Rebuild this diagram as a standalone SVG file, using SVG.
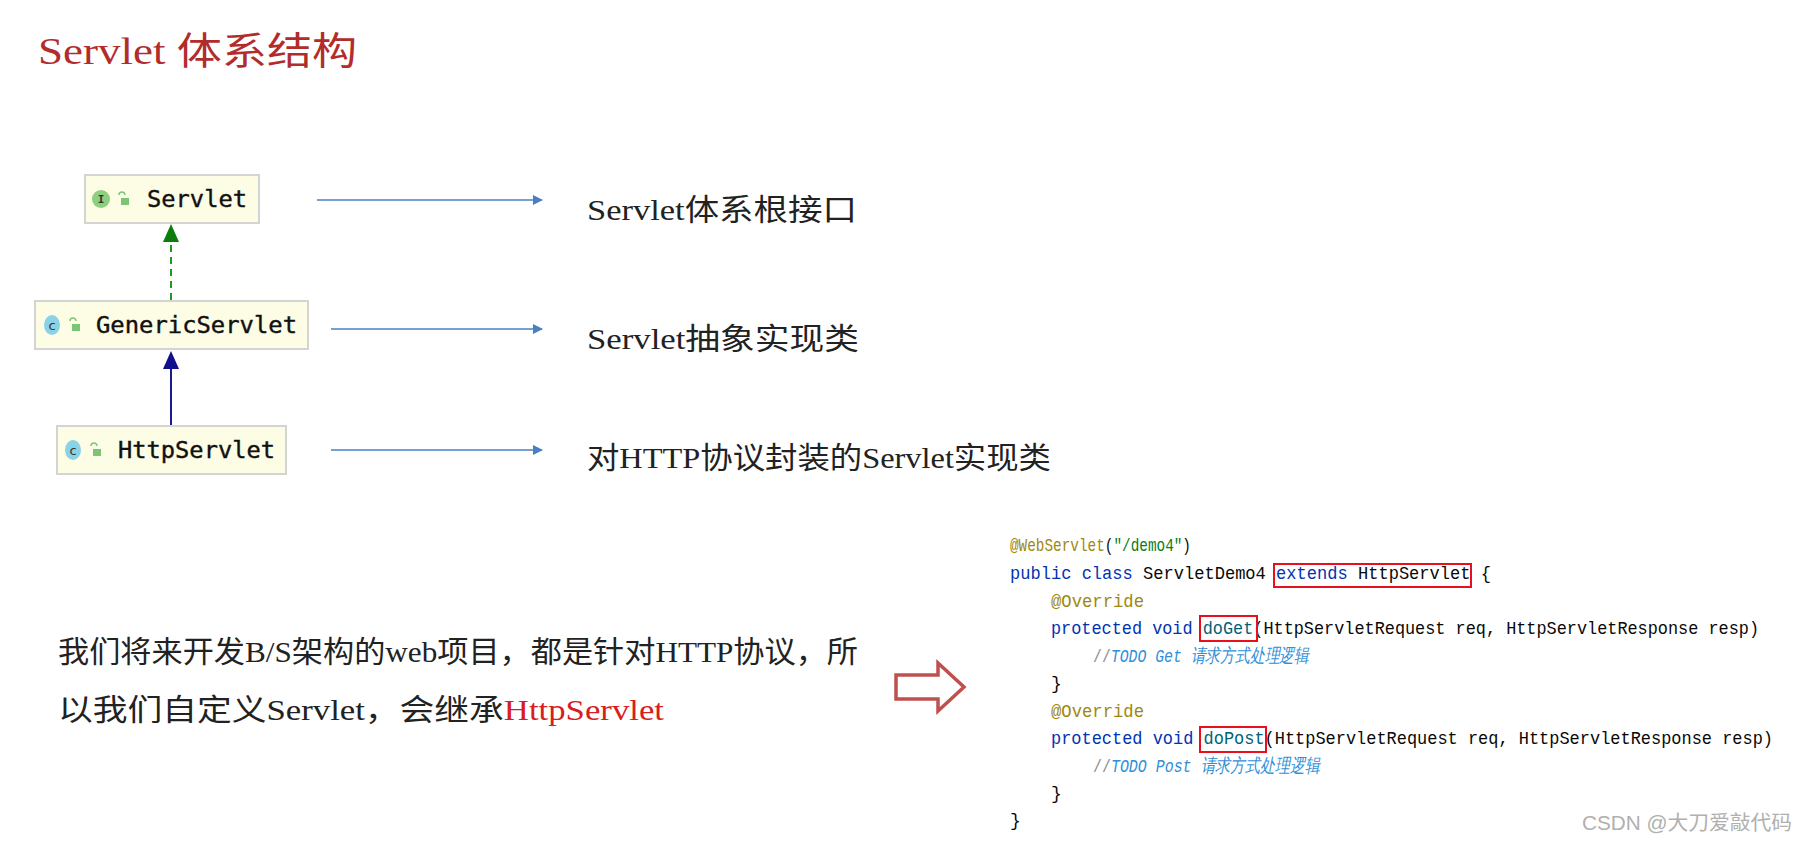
<svg xmlns="http://www.w3.org/2000/svg" width="1815" height="843" viewBox="0 0 1815 843">
<style>
.node rect.b{fill:#fdfde6;stroke:#d4d4d4;stroke-width:2}
.nt{font-family:"DejaVu Sans Mono",monospace;font-size:23px;fill:#111;stroke:#111;stroke-width:0.4}
.lbl{font-family:"Liberation Serif","Noto Sans CJK SC",serif;font-size:30px;fill:#222}
.code{font-family:"Liberation Mono",monospace;font-size:18px;fill:#080808}
.kw{fill:#0033b3}.an{fill:#9e880d}.st{fill:#067d17}.fn{fill:#00627a}.cm{fill:#2f8fd8;font-style:italic}.gr{fill:#8c8c8c}
.rb{fill:none;stroke:#e8101e;stroke-width:2}
</style>
<defs>
<marker id="ab" markerWidth="10" markerHeight="10" refX="9" refY="5" orient="auto" markerUnits="userSpaceOnUse"><path d="M0,0 L10,5 L0,10 z" fill="#4a7fc1"/></marker>
<g id="lock"><path d="M-4,-6 a3,3 0 0 1 6,0" fill="none" stroke="#7cc576" stroke-width="1.5"/><rect x="-2" y="-3" width="8" height="7" fill="#7cc576"/></g>
</defs>
<text x="38" y="64" font-family="Liberation Serif,Noto Sans CJK SC,serif" font-size="38" fill="#b22c2c" textLength="319" lengthAdjust="spacingAndGlyphs">Servlet 体系结构</text>

<g id="connectors">
<line x1="171" y1="300" x2="171" y2="240" stroke="#1e9a1e" stroke-width="2" stroke-dasharray="7,5"/>
<path d="M171,224 L163,242 L179,242 z" fill="#0a7d0a"/>
<line x1="171" y1="425" x2="171" y2="365" stroke="#1a1a8c" stroke-width="2"/>
<path d="M171,351 L163,369 L179,369 z" fill="#10108a"/>
<line x1="317" y1="200" x2="542" y2="200" stroke="#4a7fc1" stroke-width="1.5" marker-end="url(#ab)"/>
<line x1="331" y1="329" x2="542" y2="329" stroke="#4a7fc1" stroke-width="1.5" marker-end="url(#ab)"/>
<line x1="331" y1="450" x2="542" y2="450" stroke="#4a7fc1" stroke-width="1.5" marker-end="url(#ab)"/>
</g>

<g id="servlet" class="node">
<rect class="b" x="85" y="175" width="174" height="48"/>
<circle cx="101" cy="199" r="9" fill="#8ccf7e"/><text x="101" y="203" font-family="DejaVu Sans Mono" font-size="11" font-weight="bold" text-anchor="middle" fill="#333">I</text>
<use href="#lock" x="123" y="201"/>
<text class="nt" x="147" y="207" textLength="100" lengthAdjust="spacingAndGlyphs">Servlet</text>
</g>
<g id="generic" class="node">
<rect class="b" x="35" y="301" width="273" height="48"/>
<ellipse cx="52" cy="325" rx="8" ry="10" fill="#8ad2e6"/><text x="52" y="330" font-family="DejaVu Sans" font-size="13" text-anchor="middle" fill="#333">c</text>
<use href="#lock" x="74" y="327"/>
<text class="nt" x="96" y="333" textLength="201" lengthAdjust="spacingAndGlyphs">GenericServlet</text>
</g>
<g id="http" class="node">
<rect class="b" x="57" y="426" width="229" height="48"/>
<ellipse cx="73" cy="450" rx="8" ry="10" fill="#8ad2e6"/><text x="73" y="455" font-family="DejaVu Sans" font-size="13" text-anchor="middle" fill="#333">c</text>
<use href="#lock" x="95" y="452"/>
<text class="nt" x="118" y="458" textLength="157" lengthAdjust="spacingAndGlyphs">HttpServlet</text>
</g>

<text class="lbl" x="587" y="220" textLength="270" lengthAdjust="spacingAndGlyphs">Servlet体系根接口</text>
<text class="lbl" x="587" y="349" textLength="272" lengthAdjust="spacingAndGlyphs">Servlet抽象实现类</text>
<text class="lbl" x="587" y="468" textLength="464" lengthAdjust="spacingAndGlyphs">对HTTP协议封装的Servlet实现类</text>

<text class="lbl" x="58" y="662" textLength="800" lengthAdjust="spacingAndGlyphs">我们将来开发B/S架构的web项目，都是针对HTTP协议，所</text>
<text class="lbl" x="58" y="720" textLength="606" lengthAdjust="spacingAndGlyphs">以我们自定义Servlet，会继承<tspan fill="#d81e1e">HttpServlet</tspan></text>

<path d="M896,675 L938,675 L938,663 L964,687 L938,711 L938,699 L896,699 z" fill="none" stroke="#c0504d" stroke-width="3.5"/>

<g class="code">
<text x="1010" y="551" textLength="181" lengthAdjust="spacingAndGlyphs"><tspan class="an">@WebServlet</tspan>(<tspan class="st">"/demo4"</tspan>)</text>
<text x="1010" y="579" textLength="481" lengthAdjust="spacingAndGlyphs"><tspan class="kw">public class</tspan> ServletDemo4 <tspan class="kw">extends</tspan> HttpServlet {</text>
<text x="1051" y="607" textLength="93" lengthAdjust="spacingAndGlyphs" class="an">@Override</text>
<text x="1051" y="634" textLength="708" lengthAdjust="spacingAndGlyphs"><tspan class="kw">protected void</tspan> <tspan class="fn">doGet</tspan>(HttpServletRequest req, HttpServletResponse resp)</text>
<text x="1093" y="662" font-size="19" textLength="216" lengthAdjust="spacingAndGlyphs"><tspan class="gr">//</tspan><tspan class="cm">TODO Get 请求方式处理逻辑</tspan></text>
<text x="1051" y="689">}</text>
<text x="1051" y="717" textLength="93" lengthAdjust="spacingAndGlyphs" class="an">@Override</text>
<text x="1051" y="744" textLength="722" lengthAdjust="spacingAndGlyphs"><tspan class="kw">protected void</tspan> <tspan class="fn">doPost</tspan>(HttpServletRequest req, HttpServletResponse resp)</text>
<text x="1093" y="772" font-size="19" textLength="227" lengthAdjust="spacingAndGlyphs"><tspan class="gr">//</tspan><tspan class="cm">TODO Post 请求方式处理逻辑</tspan></text>
<text x="1051" y="799">}</text>
<text x="1010" y="826">}</text>
</g>
<rect class="rb" x="1274" y="564" width="197" height="23"/>
<rect class="rb" x="1200" y="616" width="57" height="25"/>
<rect class="rb" x="1200" y="727" width="66" height="25"/>
<text x="1582" y="830" font-family="Liberation Sans,Noto Sans CJK SC,sans-serif" font-size="20" fill="#b0b0b0" textLength="210" lengthAdjust="spacingAndGlyphs">CSDN @大刀爱敲代码</text>
</svg>
